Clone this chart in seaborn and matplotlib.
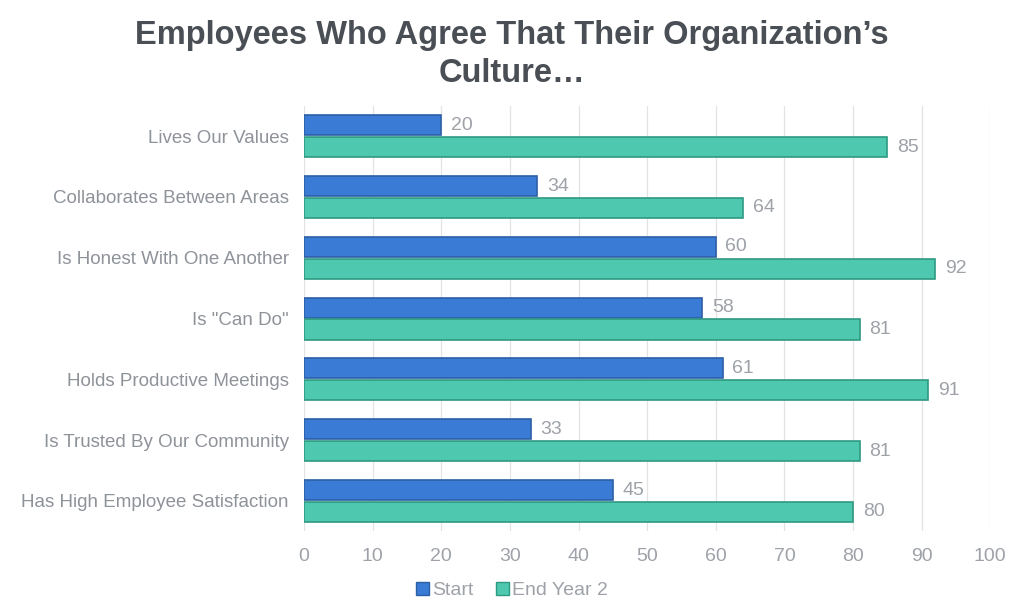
import seaborn as sns
import pandas as pd
import matplotlib.pyplot as plt
from matplotlib.patches import Patch

categories = [
    "Lives Our Values",
    "Collaborates Between Areas",
    "Is Honest With One Another",
    'Is "Can Do"',
    "Holds Productive Meetings",
    "Is Trusted By Our Community",
    "Has High Employee Satisfaction",
]
start_vals = [20, 34, 60, 58, 61, 33, 45]
end_vals = [85, 64, 92, 81, 91, 81, 80]
series = ["Start", "End Year 2"]
x_ticks = [0, 10, 20, 30, 40, 50, 60, 70, 80, 90, 100]

face = {"Start": "#3A7BD5", "End Year 2": "#4EC9B0"}
edge = {"Start": "#2C5FA6", "End Year 2": "#2E9A82"}
txt = "#9EA2A8"

df = pd.DataFrame({
    "category": categories * 2,
    "value": start_vals + end_vals,
    "series": [series[0]] * len(categories) + [series[1]] * len(categories),
})

sns.set_style("white")
plt.rcParams["font.family"] = ["Liberation Sans", "DejaVu Sans"]

fig = plt.figure(figsize=(10.24, 6.15), dpi=100)
ax = fig.add_axes([0.297, 0.136, 0.67, 0.692])

sns.barplot(data=df, y="category", x="value", hue="series", order=categories,
            hue_order=series, palette=face, saturation=1, orient="h",
            width=0.72, gap=0.08, ax=ax, legend=False, linewidth=1.2, zorder=3)

for cont, s in zip(ax.containers, series):
    for bar in cont:
        bar.set_edgecolor(edge[s])
    ax.bar_label(cont, padding=7, fontsize=14, color=txt)

ax.set_xlim(0, 100)
ax.set_xticks(x_ticks)
ax.xaxis.grid(True, color="#E3E3E3", linewidth=0.9, zorder=0)
ax.set_axisbelow(True)
for sp in ax.spines.values():
    sp.set_visible(False)
ax.tick_params(axis="x", colors=txt, labelsize=14, length=6, color="#E3E3E3", pad=6)
ax.tick_params(axis="y", colors=txt, labelsize=13.5, length=0, pad=11)
for lab in ax.get_yticklabels():
    lab.set_color("#8E9299")
ax.set_xlabel("")
ax.set_ylabel("")

fig.suptitle("Employees Who Agree That Their Organization\u2019s\nCulture\u2026",
             x=0.5, y=0.968, fontsize=23.5, fontweight="bold", color="#4A4F55",
             linespacing=1.3)

handles = [Patch(facecolor=face[s], edgecolor=edge[s], label=s) for s in series]
fig.legend(handles=handles, loc="center", bbox_to_anchor=(0.5, 0.04), ncol=2,
           frameon=False, fontsize=14, labelcolor=txt, handlelength=0.65,
           handleheight=0.65, handletextpad=0.15, columnspacing=1.2)

fig.savefig("out.png", dpi=100)
